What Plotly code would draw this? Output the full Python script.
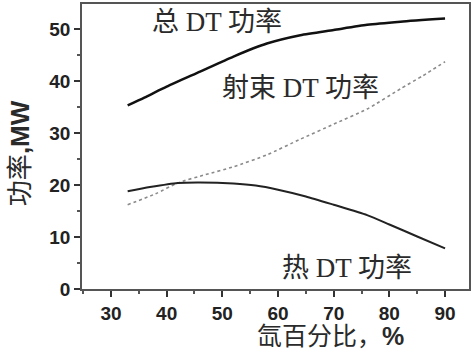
import plotly.graph_objects as go

# Data
x_total = [33, 36, 40, 46, 52, 58, 64, 70, 76, 82, 90]
y_total = [35.3, 36.8, 38.9, 41.8, 44.7, 47.2, 48.8, 49.8, 50.8, 51.4, 52.0]

x_beam = [33, 38, 42, 47, 52, 58, 64, 70, 76, 82, 86, 90]
y_beam = [16.2, 18.3, 20.4, 22.0, 23.5, 25.8, 28.8, 31.7, 34.6, 38.5, 41.0, 43.7]

x_thermal = [33, 37, 42, 46, 52, 56, 60, 65, 70, 76, 80, 85, 90]
y_thermal = [18.8, 19.6, 20.4, 20.5, 20.3, 19.9, 19.1, 17.8, 16.2, 14.2, 12.4, 10.1, 7.8]

x_ticks = [30, 40, 50, 60, 70, 80, 90]
y_ticks = [0, 10, 20, 30, 40, 50]

label_total = "总 DT 功率"
label_beam = "射束 DT 功率"
label_thermal = "热 DT 功率"
x_title = "氙百分比，<b>%</b>"
y_title = "功率<b>,MW</b>"

TEXT_FONT = "Liberation Serif, Noto Sans CJK SC"
SANS_FONT = "Liberation Sans, Noto Sans CJK SC"

fig = go.Figure()
fig.add_trace(go.Scatter(x=x_total, y=y_total, mode="lines", hoverinfo="skip",
                         line=dict(color="#111111", width=2.5, shape="spline", smoothing=0.6)))
fig.add_trace(go.Scatter(x=x_beam, y=y_beam, mode="lines", hoverinfo="skip",
                         line=dict(color="#8a8a8a", width=1.6, dash="dot", shape="spline", smoothing=0.6)))
fig.add_trace(go.Scatter(x=x_thermal, y=y_thermal, mode="lines", hoverinfo="skip",
                         line=dict(color="#222222", width=2, shape="spline", smoothing=0.6)))

axis_common = dict(
    showgrid=False, zeroline=False, showline=True, linecolor="#555555", linewidth=1.5,
    mirror=True, ticks="outside", ticklen=6, tickwidth=1.5, tickcolor="#333333",
    automargin=False,
    tickfont=dict(family=SANS_FONT, size=19, color="#222222", weight="bold"),
)

fig.update_xaxes(range=[24.8, 94.3], tickvals=x_ticks,
                 minor=dict(dtick=5, ticks="outside", ticklen=3, tickcolor="#555555"),
                 **axis_common)
fig.update_yaxes(range=[0, 54.8], tickvals=y_ticks,
                 minor=dict(dtick=5, ticks="outside", ticklen=3, tickcolor="#555555"),
                 **axis_common)

anns = [
    dict(x=49.1, y=51.4, xref="x", yref="y", text=label_total, showarrow=False,
         xanchor="center", yanchor="middle",
         font=dict(family=TEXT_FONT, size=27, color="#2a2a2a")),
    dict(x=64.1, y=38.7, xref="x", yref="y", text=label_beam, showarrow=False,
         xanchor="center", yanchor="middle",
         font=dict(family=TEXT_FONT, size=27, color="#2a2a2a")),
    dict(x=72.4, y=4.0, xref="x", yref="y", text=label_thermal, showarrow=False,
         xanchor="center", yanchor="middle",
         font=dict(family=TEXT_FONT, size=27, color="#2a2a2a")),
    dict(x=0.643, y=-0.165, xref="paper", yref="paper", text=x_title, showarrow=False,
         xanchor="center", yanchor="middle",
         font=dict(family=SANS_FONT, size=25, color="#2a2a2a")),
    dict(x=-0.160, y=0.477, xref="paper", yref="paper", text=y_title, showarrow=False,
         xanchor="center", yanchor="middle",
         textangle=-90, font=dict(family=SANS_FONT, size=26, color="#2a2a2a")),
]

fig.update_layout(
    width=474, height=356,
    margin=dict(l=82, r=5, t=4, b=67),
    paper_bgcolor="white", plot_bgcolor="white",
    showlegend=False,
    hovermode=False,
    annotations=anns,
)

fig.write_html("out.html", config={"displayModeBar": False},
               post_script="document.body.style.margin='0';")
